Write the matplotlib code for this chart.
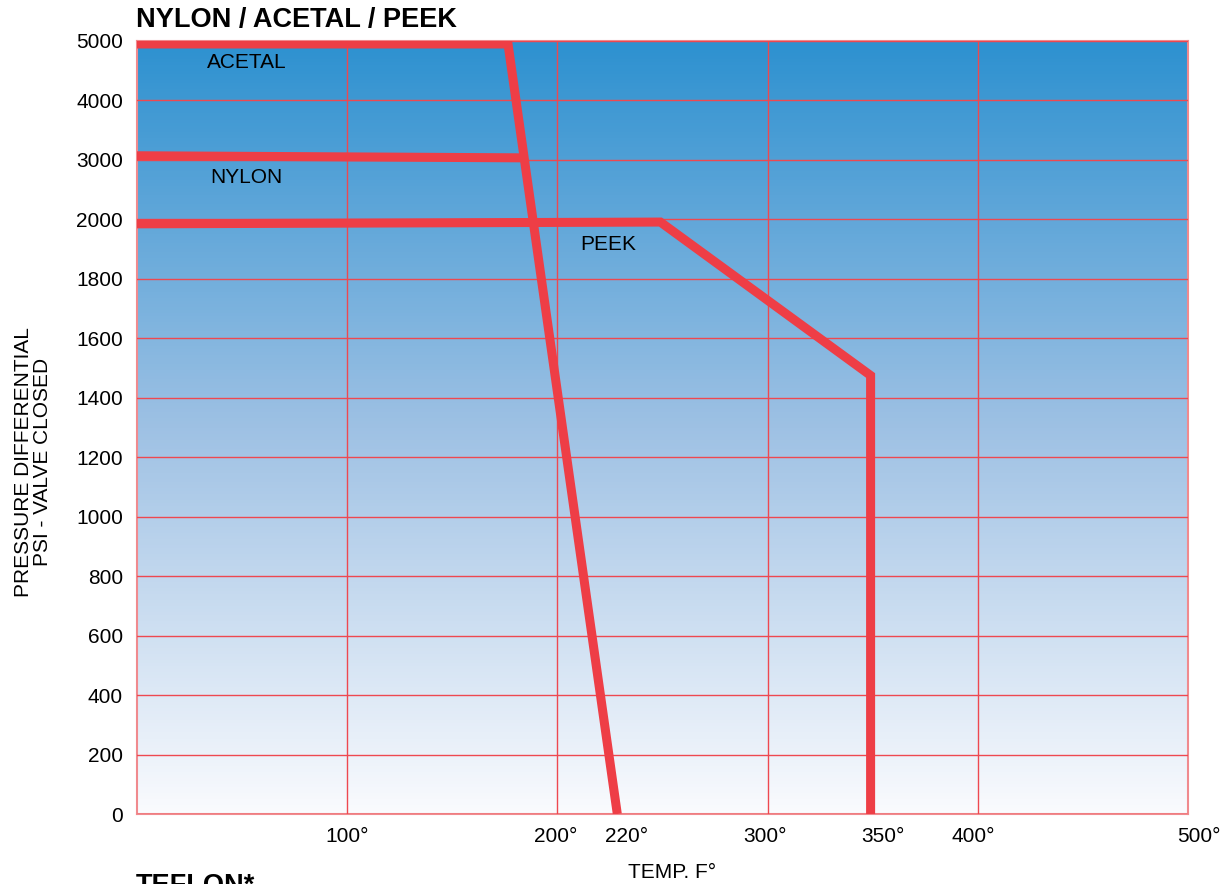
import numpy as np
import matplotlib
matplotlib.use("Agg")
import matplotlib.pyplot as plt
from matplotlib.colors import LinearSegmentedColormap
from matplotlib.transforms import ScaledTranslation

# Y axis rows (evenly spaced rows, uneven psi steps)
psi_ticks = [0, 200, 400, 600, 800, 1000, 1200, 1400, 1600, 1800, 2000, 3000, 4000, 5000]
psi_labels = [str(v) for v in psi_ticks]

# X axis
temp_grid = [100, 200, 300, 400]
temp_label_pos = [100, 199, 233, 299, 355, 398, 500]
temp_labels = ["100°", "200°", "220°", "300°", "350°", "400°", "500°"]

# Curves (temperature F, pressure psi)
acetal_x = [0, 176.5, 228.5]
acetal_y = [4950, 4950, 0]
nylon_x = [0, 184]
nylon_y = [3070, 3035]
peek_x = [0, 249, 349, 349]
peek_y = [1985, 1991, 1475, 0]

RED = "#EE3E46"
GRID = "#EE4850"


def main():
    plt.rcParams["font.family"] = ["Liberation Sans", "DejaVu Sans"]

    fig = plt.figure(figsize=(12.21, 8.84), dpi=100)
    ax = fig.add_axes([137 / 1221, 1 - 814 / 884, 1051 / 1221, 773 / 884])

    idx = np.arange(len(psi_ticks), dtype=float)

    def fwd(y):
        return np.interp(y, psi_ticks, idx)

    def inv(v):
        return np.interp(v, idx, psi_ticks)

    ax.set_yscale("function", functions=(fwd, inv))

    # gradient background
    cmap = LinearSegmentedColormap.from_list(
        "bg", [(0.0, "#FAFBFE"), (0.5, "#9EC1E4"), (1.0, "#2D91D0")])
    grad = np.linspace(0, 1, 256).reshape(-1, 1)
    ax.imshow(grad, cmap=cmap, origin="lower", aspect="auto",
              extent=[0, 1, 0, 1], transform=ax.transAxes, zorder=0)

    ax.plot(acetal_x, acetal_y, color=RED, lw=6.5, solid_joinstyle="miter",
            solid_capstyle="butt", zorder=3)
    ax.plot(nylon_x, nylon_y, color=RED, lw=6.5, solid_capstyle="butt", zorder=3)
    ax.plot(peek_x, peek_y, color=RED, lw=6.5, solid_joinstyle="miter",
            solid_capstyle="butt", zorder=3)

    ax.set_xlim(0, 500)
    ax.set_ylim(0, 5000)

    ax.set_yticks(psi_ticks)
    ax.set_yticklabels(psi_labels)
    ax.xaxis.remove_overlapping_locs = False
    ax.set_xticks(temp_grid)
    ax.set_xticklabels([])
    ax.set_xticks(temp_label_pos, minor=True)
    ax.set_xticklabels(temp_labels, minor=True)
    ax.tick_params(axis="both", which="both", length=0, labelsize=15)
    ax.tick_params(axis="y", pad=10)
    ax.tick_params(axis="x", which="minor", pad=9)
    ax.yaxis.set_minor_locator(matplotlib.ticker.NullLocator())

    # push the 500° label out past the edge like the original
    lbls = ax.xaxis.get_minorticklabels()
    lbls[-1].set_transform(lbls[-1].get_transform() +
                           ScaledTranslation(11 / 100, 0, fig.dpi_scale_trans))

    ax.grid(True, which="major", color=GRID, lw=1.0, zorder=1)
    ax.set_axisbelow(False)
    for s in ax.spines.values():
        s.set_color("#F08A8E")
        s.set_linewidth(1.5)

    ax.text(52, 4640, "ACETAL", fontsize=15, ha="center", va="center", zorder=4)
    ax.text(52, 2700, "NYLON", fontsize=15, ha="center", va="center", zorder=4)
    ax.text(224, 1917, "PEEK", fontsize=15, ha="center", va="center", zorder=4)

    fig.text(136 / 1221, 1 - 20 / 884, "NYLON / ACETAL / PEEK", fontsize=19.5,
             fontweight="bold", ha="left", va="center")
    fig.text(33 / 1221, 1 - 462 / 884, "PRESSURE DIFFERENTIAL\nPSI - VALVE CLOSED",
             fontsize=15, rotation=90, ha="center", va="center",
             multialignment="center", linespacing=0.95)
    fig.text(672 / 1221, 1 - 872 / 884, "TEMP. F°", fontsize=15,
             ha="center", va="center")
    fig.text(136 / 1221, 1 - 893 / 884, "TEFLON*", fontsize=19.5,
             fontweight="bold", ha="left", va="baseline")

    fig.savefig("out.png", dpi=100)


if __name__ == "__main__":
    main()
